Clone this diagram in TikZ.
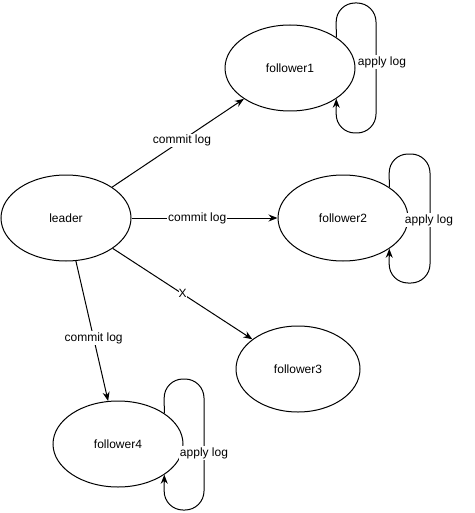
\documentclass[tikz,border=0pt]{standalone}
\usepackage{fontspec}
\setmainfont{Liberation Sans}
\usetikzlibrary{shapes.geometric, arrows.meta}
\tikzset{
  state/.style={ellipse, draw=black, line width=1pt, minimum width=130pt, minimum height=86pt, inner sep=0pt, font=\fontsize{12}{14}\selectfont},
  arrow/.style={line width=1pt, -{Stealth[length=9pt, width=7pt]}},
  edgelabel/.style={fill=white, inner sep=1pt, font=\fontsize{12}{14}\selectfont},
  loopline/.style={arrow, rounded corners=19pt}
}

\begin{document}
\begin{tikzpicture}[x=1pt, y=-1pt]
    \useasboundingbox (0,0) rectangle (474,513);

    % Knoten
    \node[state] (leader) at (66,218) {leader};
    \node[state] (f1) at (290,68) {follower1};
    \node[state] (f2) at (343,218) {follower2};
    \node[state, minimum width=124pt] (f3) at (298,369) {follower3};
    \node[state] (f4) at (118,444) {follower4};

    % commit log
    \draw[arrow] (leader) -- node[edgelabel, pos=0.53] {commit log} (f1);
    \draw[arrow] (leader) -- node[edgelabel, pos=0.45] {commit log} (f2);
    \draw[arrow] (leader) -- node[edgelabel, pos=0.5, inner sep=0pt] {X} (f3);
    \draw[arrow] (leader) -- node[edgelabel, pos=0.55] {commit log} (f4);

    % apply log (Schleifen)
    \draw[loopline] (f1.north east) -- (336,3) -- (376,3) -- (376,133) -- (336,133) -- (f1.south east);
    \node[edgelabel] (a1) at (382,62) {apply log};

    \draw[loopline] (f2.north east) -- (389,154) -- (430,154) -- (430,283) -- (389,283) -- (f2.south east);
    \node[edgelabel] (a2) at (429,220) {apply log};

    \draw[loopline] (f4.north east) -- (164,379) -- (204,379) -- (204,510) -- (164,510) -- (f4.south east);
    \node[edgelabel] (a4) at (204,453) {apply log};

\end{tikzpicture}
\end{document}
